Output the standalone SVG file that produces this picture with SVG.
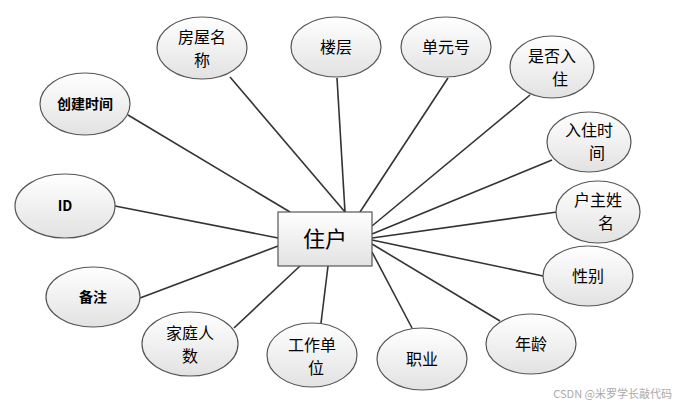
<svg xmlns="http://www.w3.org/2000/svg" width="678" height="408" viewBox="0 0 678 408">
<style>
.n{fill:url(#g);stroke:#555;stroke-width:1.2}
.t{font-family:"Noto Sans CJK SC","Liberation Sans",sans-serif;font-size:16px;fill:#000;text-anchor:middle}
.b{font-weight:bold;font-size:14px}
#edges line{stroke:#333;stroke-width:1.6}
</style>
<defs>
<linearGradient id="g" x1="0" y1="0" x2="0" y2="1"><stop offset="0" stop-color="#fff"/><stop offset="1" stop-color="#e2e2e2"/></linearGradient>
</defs>
<rect width="678" height="408" fill="#fff"/>
<g id="edges">
<line x1="230" y1="77" x2="345" y2="212"/>
<line x1="337" y1="78" x2="345" y2="212"/>
<line x1="448" y1="78" x2="360" y2="212"/>
<line x1="530" y1="95" x2="372" y2="226"/>
<line x1="552" y1="160" x2="372" y2="234"/>
<line x1="557" y1="212" x2="372" y2="238"/>
<line x1="543" y1="276" x2="372" y2="240"/>
<line x1="500" y1="321" x2="372" y2="244"/>
<line x1="412" y1="328" x2="372" y2="252"/>
<line x1="321" y1="323" x2="328" y2="266"/>
<line x1="234" y1="328" x2="300" y2="266"/>
<line x1="140" y1="298" x2="278" y2="246"/>
<line x1="115" y1="206" x2="278" y2="238"/>
<line x1="128" y1="115" x2="290" y2="212"/>
</g>
<g id="center"><rect x="278" y="212" width="94" height="54" class="n"/><text x="325" y="247" class="t" style="font-size:22px">住户</text></g>
<g id="n1"><ellipse cx="202" cy="48" rx="45" ry="31" class="n"/><text x="202" y="43" class="t">房屋名</text><text x="202" y="66" class="t">称</text></g>
<g id="n2"><ellipse cx="336" cy="47" rx="45" ry="30" class="n"/><text x="336" y="53" class="t">楼层</text></g>
<g id="n3"><ellipse cx="446" cy="47" rx="45" ry="30" class="n"/><text x="446" y="53" class="t">单元号</text></g>
<g id="n4"><ellipse cx="552" cy="67" rx="42" ry="31" class="n"/><text x="552" y="62" class="t">是否入</text><text x="560" y="85" class="t">住</text></g>
<g id="n5"><ellipse cx="589" cy="142" rx="42" ry="30" class="n"/><text x="589" y="136" class="t">入住时</text><text x="597" y="159" class="t">间</text></g>
<g id="n6"><ellipse cx="598" cy="212" rx="42" ry="31" class="n"/><text x="598" y="206" class="t">户主姓</text><text x="606" y="229" class="t">名</text></g>
<g id="n7"><ellipse cx="588" cy="276" rx="45" ry="30" class="n"/><text x="588" y="282" class="t">性别</text></g>
<g id="n8"><ellipse cx="531" cy="344" rx="45" ry="30" class="n"/><text x="531" y="350" class="t">年龄</text></g>
<g id="n9"><ellipse cx="422" cy="359" rx="45" ry="31" class="n"/><text x="422" y="365" class="t">职业</text></g>
<g id="n10"><ellipse cx="312" cy="355" rx="45" ry="32" class="n"/><text x="312" y="351" class="t">工作单</text><text x="316" y="374" class="t">位</text></g>
<g id="n11"><ellipse cx="190" cy="344" rx="48" ry="32" class="n"/><text x="190" y="339" class="t">家庭人</text><text x="190" y="362" class="t">数</text></g>
<g id="n12"><ellipse cx="93" cy="297" rx="47" ry="30" class="n"/><text x="93" y="302" class="t b">备注</text></g>
<g id="n13"><ellipse cx="65" cy="206" rx="50" ry="32" class="n"/><text x="65" y="211" class="t b">ID</text></g>
<g id="n14"><ellipse cx="85" cy="104" rx="45" ry="31" class="n"/><text x="85" y="109" class="t b">创建时间</text></g>
<text x="672" y="398" style="font-family:'Noto Sans CJK SC',sans-serif;font-size:11px;fill:#aaa;text-anchor:end">CSDN @米罗学长敲代码</text>
</svg>
